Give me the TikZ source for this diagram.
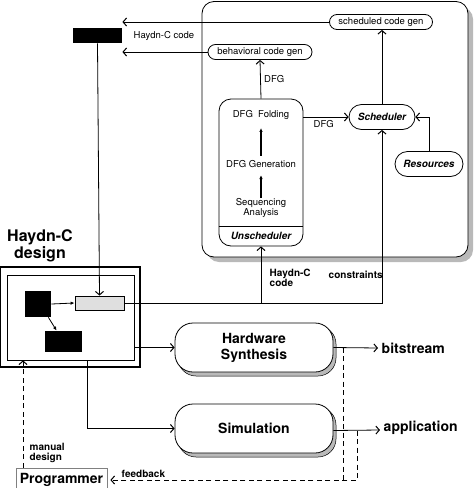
\documentclass[tikz,border=0pt]{standalone}
\usepackage{fontspec}
\setmainfont{TeX Gyre Heros}
\usetikzlibrary{arrows.meta,shapes.misc}

\tikzset{
  barb/.style={-{Straight Barb[length=3.5pt,width=8pt,line width=1pt]}},
  tip/.style={-{Latex[length=4pt,width=3.5pt]}},
  dash5/.style={dash pattern=on 5pt off 3.5pt},
  pill/.style={draw,rounded rectangle,inner sep=0pt,minimum height=15pt},
  blk/.style={fill=black,inner sep=0pt},
  small/.style={font=\fontsize{9.5}{10}\selectfont},
  smallb/.style={font=\fontsize{10}{10.5}\selectfont\bfseries},
  big/.style={font=\fontsize{14}{16}\selectfont\bfseries},
}

\begin{document}
\begin{tikzpicture}[x=1pt,y=-1pt,line width=0.8pt]
    \useasboundingbox (0,0) rectangle (474,488);

    % big box with its shadow
    \fill[gray!55,rounded corners=12pt] (207,7) rectangle (473,262);
    \draw[fill=white,rounded corners=12pt] (202,1.5) rectangle (468,257);

    \node[pill,small,minimum width=103pt] (schedgen) at (381,22) {scheduled code gen};
    \node[pill,small,minimum width=104pt] (behgen) at (260,52) {behavioral code gen};
    \node[blk,minimum width=49pt,minimum height=15pt] (hcode) at (97.5,35.5) {};
    \node[small,anchor=west] (hclab) at (130,36) {Haydn-C code};

    % unscheduler
    \node[draw,rounded corners=12pt,minimum width=84pt,minimum height=147pt,inner sep=0pt] (unsch) at (261,172.5) {};
    \draw ([yshift=20pt]unsch.south west) -- ([yshift=20pt]unsch.south east);
    \node[font=\fontsize{10}{10}\selectfont\bfseries\itshape] (unlab) at (261,236) {Unscheduler};
    \node[small,inner sep=0pt] (fold) at (261,115) {DFG\ \ Folding};
    \node[small,inner sep=0pt] (gen) at (261,164) {DFG Generation};
    \node[small,inner sep=0pt,align=center] (seq) at (261,208) {Sequencing\\Analysis};
    \draw[tip,line width=1.3pt,shorten <=4pt,shorten >=8pt] (gen.north) -- (fold.south);
    \draw[tip,line width=1.3pt,shorten <=0pt,shorten >=7pt] (seq.north) -- (gen.south);

    \node[pill,minimum width=66pt,minimum height=25pt,font=\fontsize{10}{10}\selectfont\bfseries\itshape] (sched) at (382,117) {Scheduler};
    \node[pill,minimum width=68pt,minimum height=25pt,font=\fontsize{10}{10}\selectfont\bfseries\itshape] (res) at (429,164) {Resources};

    \draw[barb] (schedgen.west) -- (schedgen.west -| hcode.east);
    \draw[barb] (behgen.west) -- (behgen.west -| hcode.east);
    \draw[barb] (unsch.north) -- (behgen.south) node[pos=0.5,right,small] {DFG};
    \draw[barb] (sched.west -| unsch.east) -- (sched.west) node[pos=0.45,below,small] {DFG};
    \draw[barb] (sched.north) -- (sched.north |- schedgen.south);
    \draw[barb] (res.north) |- (sched.east);

    % design
    \node[font=\fontsize{16}{17}\selectfont\bfseries,align=center] (title) at (40,246) {Haydn-C\\design};
    \draw[line width=2.6pt] (0,267) rectangle (140,367);
    \node[draw,minimum width=127pt,minimum height=85pt,inner sep=0pt] (dout) at (70.5,317.5) {};
    \node[draw,fill=gray!25,minimum width=49pt,minimum height=14pt,inner sep=0pt] (gray) at (99.5,303) {};
    \node[blk,minimum width=26pt,minimum height=26pt] (sq1) at (38,304) {};
    \node[blk,minimum width=37pt,minimum height=21pt] (sq2) at (63.5,341.5) {};
    \draw[tip] (sq1.east) -- (gray.west);
    \draw[tip] ([xshift=-3pt]sq1.south east) -- ([xshift=12pt]sq2.north west);
    \draw[barb] (hcode.south) -- (gray.north);

    \draw[barb] (gray.east) -| (sched.south);
    \draw[barb] (gray.east -| unsch.south) -- (unsch.south);
    \node[smallb,anchor=west,align=left] (hclab2) at (266,278) {Haydn-C\\code};
    \node[smallb,anchor=west] (conlab) at (325,275) {constraints};

    % synthesis and simulation
    \fill[gray!55,draw=black,line width=0.5pt,rounded corners=18pt] (178,326) rectangle (336,376);
    \node[draw,fill=white,rounded corners=18pt,minimum width=158pt,minimum height=49pt,inner sep=0pt,big,align=center] (hs) at (254,347.5) {Hardware\\Synthesis};
    \fill[gray!55,draw=black,line width=0.5pt,rounded corners=18pt] (178,407) rectangle (336,457);
    \node[draw,fill=white,rounded corners=18pt,minimum width=158pt,minimum height=49pt,inner sep=0pt,big] (sim) at (254,428.5) {Simulation};
    \draw[barb] (dout.east |- hs.west) -- (hs.west);
    \draw[barb] ([xshift=17pt]dout.south) |- (sim.west);

    \node[big,anchor=west] (bits) at (378,348) {bitstream};
    \node[big,anchor=west] (app) at (380,428) {application};
    \draw[barb] (hs.east) -- (bits.west);
    \draw[barb] ([yshift=-2pt]sim.east) -- ([yshift=-2pt]app.west);

    % programmer and feedback
    \node[draw=gray,minimum width=91pt,minimum height=24pt,inner sep=0pt,big] (prog) at (61.5,480) {Programmer};
    \draw[dash5] ([xshift=10pt]hs.east) -- ++(0,132.5);
    \draw[dash5,barb,shorten >=3pt] ([xshift=24pt,yshift=-2pt]sim.east) |- (prog.east);
    \node[smallb,anchor=west] (fblab) at (118,474) {feedback};
    \draw[dash5,barb] ([xshift=-38.5pt]prog.north) -- ([xshift=-38.5pt]prog.north |- dout.south);
    \node[smallb,anchor=west,align=left] (mdlab) at (26,453) {manual\\design};
\end{tikzpicture}
\end{document}
